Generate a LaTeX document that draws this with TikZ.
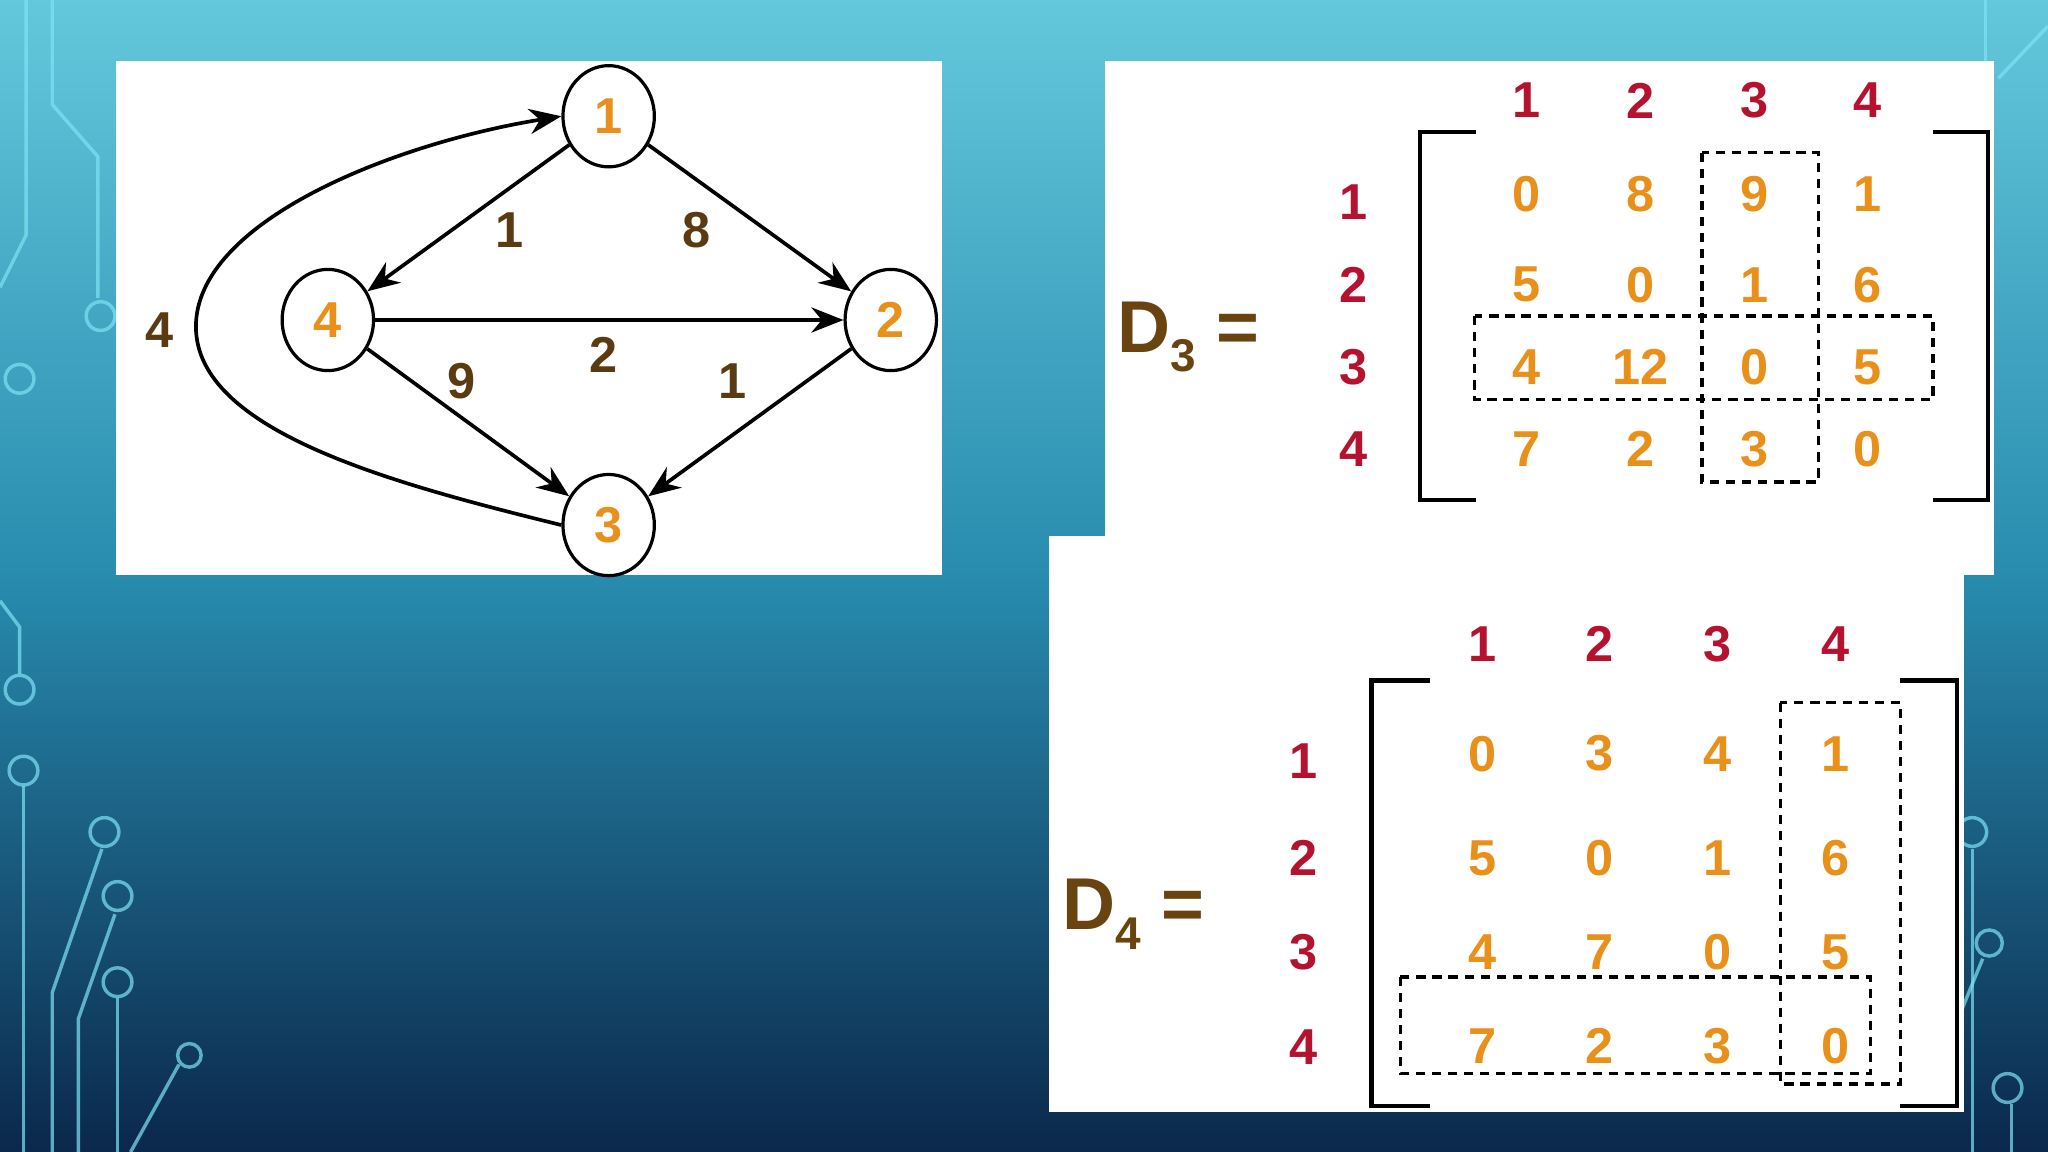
\documentclass[tikz,border=0pt]{standalone}
\usepackage{fontspec}
\setmainfont{Liberation Sans}
\usetikzlibrary{arrows.meta,shapes.geometric}
\definecolor{nodeor}{HTML}{E8901A}
\definecolor{elab}{HTML}{5A3A10}
\definecolor{hdr}{HTML}{B5122F}
\definecolor{dark}{HTML}{6A4410}
\definecolor{circ}{HTML}{7FE3F5}
\tikzset{
 vtx/.style={draw,line width=1.4pt,ellipse,minimum width=1.4cm,minimum height=1.55cm,inner sep=0pt,text=nodeor,font=\fontsize{22}{24}\selectfont\bfseries},
 elbl/.style={text=elab,font=\fontsize{22}{24}\selectfont\bfseries},
 edge/.style={line width=1.6pt,-{Stealth[length=14pt,width=11pt]}},
 hd/.style={text=hdr,font=\fontsize{22}{24}\selectfont\bfseries},
 val/.style={text=nodeor,font=\fontsize{22}{24}\selectfont\bfseries},
 dname/.style={text=dark,font=\fontsize{32}{34}\selectfont\bfseries},
 brk/.style={line width=1.8pt},
 dbox/.style={line width=1.4pt,dash pattern=on 4pt off 3pt},
 ckt/.style={circ,line width=1.5pt,opacity=0.7},
 pad/.style={circ,line width=1.5pt,opacity=0.7,fill=none}
}
\begin{document}
\begin{tikzpicture}[x=0.02cm,y=-0.02cm]
\useasboundingbox (0,0) rectangle (1568,882);
\shade[top color={rgb,255:red,100;green,200;blue,220}, bottom color={rgb,255:red,10;green,40;blue,75}, middle color={rgb,255:red,40;green,140;blue,175}] (0,0) rectangle (1568,882);
% circuit decoration
\draw[ckt] (18,882) -- (18,602); \draw[pad] (18,590) circle (11);
\draw[ckt] (40,882) -- (40,760) -- (78,650); \draw[pad] (80,637) circle (11);
\draw[ckt] (60,882) -- (60,780) -- (88,700); \draw[pad] (90,686) circle (11);
\draw[ckt] (90,882) -- (90,764); \draw[pad] (90,752) circle (11);
\draw[ckt] (100,882) -- (137,815); \draw[pad] (145,808) circle (9);
\draw[ckt] (0,460) -- (15,480) -- (15,516); \draw[pad] (15,528) circle (11);
\draw[ckt] (20,0) -- (20,180) -- (0,220); \draw[pad] (15,290) circle (11);
\draw[ckt] (40,0) -- (40,80) -- (75,120) -- (75,228); \draw[pad] (77,242) circle (11);
\draw[ckt] (1568,20) -- (1530,60); \draw[ckt] (1520,0)--(1520,47);
\draw[ckt] (1510,882) -- (1510,690) -- (1510,650); \draw[pad] (1510,637) circle (11);
\draw[ckt] (1540,882) -- (1540,845); \draw[pad] (1537,833) circle (11);
\draw[ckt] (1495,790) -- (1518,734); \draw[pad] (1523,722) circle (10);
% panels
\fill[white] (89,47) rectangle (721,440);
\fill[white] (846,47) rectangle (1527,440);
\fill[white] (803,410) rectangle (1504,851);
% graph
\node[vtx] (n1) at (466,89) {1};
\node[vtx] (n4) at (251,245) {4};
\node[vtx] (n2) at (682,245) {2};
\node[vtx] (n3) at (466,402) {3};
\coordinate (lft) at (150,250);
\draw[edge] (n1) -- (n4);
\draw[edge] (n1) -- (n2);
\draw[edge] (n4) -- (n2);
\draw[edge] (n4) -- (n3);
\draw[edge] (n2) -- (n3);
\draw[edge] (n3.west) .. controls (300,370) and (150,330) .. (lft) .. controls (150,170) and (300,110) .. (n1.west);
\node[elbl] (l14) at (390,176) {1};
\node[elbl] (l12) at (533,176) {8};
\node[elbl] (l42) at (462,272) {2};
\node[elbl] (l43) at (353,292) {9};
\node[elbl] (l23) at (561,292) {1};
\node[elbl] (l31) at (122,253) {4};
% D3
\node[dname] (d3) at (910,258) {D\raisebox{-0.5ex}{\fontsize{20}{22}\selectfont 3} =};
\foreach \c/\x in {1/1169,2/1256,3/1343,4/1430} \node[hd] (h3\c) at (\x,77) {\c};
\foreach \r/\y in {1/155,2/218,3/281,4/344} \node[hd] (r3\r) at (1036,\y) {\r};
\foreach \row/\y in {{0,8,9,1}/149,{5,0,1,6}/218,{4,12,0,5}/281,{7,2,3,0}/344}{
 \foreach \v [count=\i] in \row { \node[val] (v3\i\y) at (1082+87*\i,\y) {\v}; } }
\draw[brk] (1130,101) -- (1087,101) -- (1087,383) -- (1130,383);
\draw[brk] (1480,101) -- (1522,101) -- (1522,383) -- (1480,383);
\draw[dbox] (1303,117) rectangle (1392,369);
\draw[dbox] (1129,242) rectangle (1480,306);
% D4
\node[dname] (d4) at (868,700) {D\raisebox{-0.5ex}{\fontsize{20}{22}\selectfont 4} =};
\foreach \c/\x in {1/1135,2/1225,3/1315,4/1405} \node[hd] (h4\c) at (\x,493) {\c};
\foreach \r/\y in {1/583,2/657,3/729,4/802} \node[hd] (r4\r) at (998,\y) {\r};
\foreach \row/\y in {{0,3,4,1}/577,{5,0,1,6}/657,{4,7,0,5}/729,{7,2,3,0}/801}{
 \foreach \v [count=\i] in \row { \node[val] (v4\i\y) at (1045+90*\i,\y) {\v}; } }
\draw[brk] (1095,521) -- (1050,521) -- (1050,847) -- (1095,847);
\draw[brk] (1455,521) -- (1498,521) -- (1498,847) -- (1455,847);
\draw[dbox] (1363,538) rectangle (1455,830);
\draw[dbox] (1072,748) rectangle (1432,822);
\end{tikzpicture}
\end{document}
